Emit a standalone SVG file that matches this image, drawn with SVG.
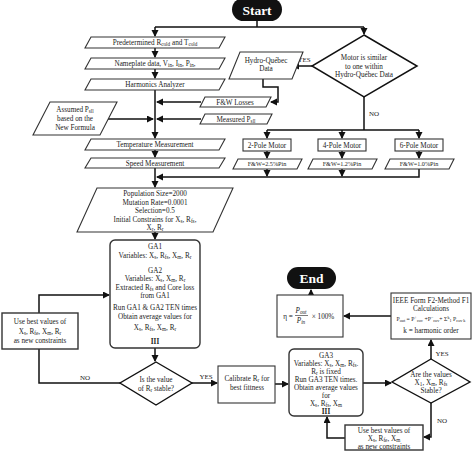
<svg xmlns="http://www.w3.org/2000/svg" width="474" height="452" viewBox="0 0 474 452">
<defs>
<style>
.t{font-family:"Liberation Serif","Times New Roman",serif;font-size:7.2px;fill:#222;text-anchor:middle}
.s{font-size:5.2px}
.sm{font-size:6.2px}
.box{fill:#fff;stroke:#333;stroke-width:1.1}
.rbox{fill:#fff;stroke:#333;stroke-width:1.4}
.c{fill:none;stroke:#111;stroke-width:1.5}
.a{fill:none;stroke:#111;stroke-width:1.5;marker-end:url(#ah)}
.pill{fill:#111}
.pt{font-family:"Liberation Serif","Times New Roman",serif;font-size:13.5px;font-weight:bold;fill:#fff;text-anchor:middle}
.lb{font-family:"Liberation Serif","Times New Roman",serif;font-size:7px;fill:#222;text-anchor:middle}
.b{font-weight:bold}
</style>
<marker id="ah" markerUnits="userSpaceOnUse" markerWidth="8" markerHeight="8" refX="6" refY="3.5" orient="auto">
<path d="M0,0 L7,3.5 L0,7 z" fill="#111"/>
</marker>
</defs>

<g id="connectors">
<path class="c" d="M257 21 V27 M155 27 H364"/>
<path class="a" d="M155 27 V36"/>
<path class="a" d="M364 27 V34"/>
<path class="a" d="M155 48 V57"/>
<path class="a" d="M155 69 V78"/>
<path class="a" d="M155 90 V138"/>
<path class="a" d="M201 102 H157"/>
<path class="a" d="M201 119 H157"/>
<path class="a" d="M108 119 H153"/>
<path class="a" d="M155 150 V157"/>
<path class="a" d="M155 168 V187"/>
<path class="a" d="M419 169 V177 H157"/>
<path class="a" d="M267 169 V176"/>
<path class="a" d="M342 169 V176"/>
<path class="a" d="M312 66 H293"/>
<path class="a" d="M263 79 V87 H278 V102 H271"/>
<path class="c" d="M364 97 V130 M267 130 H419"/>
<path class="a" d="M267 130 V138"/>
<path class="a" d="M342 130 V138"/>
<path class="a" d="M419 130 V138"/>
<path class="a" d="M267 151 V158"/>
<path class="a" d="M342 151 V158"/>
<path class="a" d="M419 151 V158"/>
<path class="a" d="M155 232 V239"/>
<path class="a" d="M155 348 V361"/>
<path class="a" d="M120 383 H39 V314"/>
<path class="a" d="M39 313 V295 H109"/>
<path class="a" d="M192 383 H217"/>
<path class="a" d="M275 384 H288"/>
<path class="a" d="M363 383 H391"/>
<path class="a" d="M431 359 V340"/>
<path class="a" d="M431 403 V437 H424"/>
<path class="a" d="M345 438 H327 V417"/>
<path class="a" d="M391 316 H344"/>
<path class="a" d="M311 295 V290"/>
<text class="lb" x="304" y="62">YES</text>
<text class="lb" x="374" y="116">NO</text>
<text class="lb" x="85" y="380">NO</text>
<text class="lb" x="206" y="379">YES</text>
<text class="lb" x="442" y="356">YES</text>
<text class="lb" x="442" y="423">NO</text>
</g>

<g id="start">
<rect class="pill" x="232" y="-2" width="50" height="23" rx="11.5"/>
<text class="pt" x="257" y="15">Start</text>
</g>

<g id="predetermined">
<polygon class="box" points="91,37 225,37 219,48 85,48"/>
<text class="t" x="155" y="45">Predetermined R<tspan class="s" dy="1.2">cold</tspan><tspan dy="-1.2"> and T</tspan><tspan class="s" dy="1.2">cold</tspan></text>
</g>

<g id="nameplate">
<polygon class="box" points="91,58 225,58 219,69 85,69"/>
<text class="t" x="155" y="66">Nameplate data, V<tspan class="s" dy="1.2">in</tspan><tspan dy="-1.2">, I</tspan><tspan class="s" dy="1.2">in</tspan><tspan dy="-1.2">, P</tspan><tspan class="s" dy="1.2">in</tspan><tspan dy="-1.2">,</tspan></text>
</g>

<g id="harmonics">
<polygon class="box" points="91,79 225,79 219,90 85,90"/>
<text class="t" x="155" y="87">Harmonics Analyzer</text>
</g>

<g id="fw-losses">
<polygon class="box" points="205,97 271,97 266,107 200,107"/>
<text class="t" x="235" y="104.5">F&amp;W Losses</text>
</g>

<g id="measured-psll">
<polygon class="box" points="205,114 272,114 267,124 200,124"/>
<text class="t" x="236" y="121.5">Measured P<tspan class="s" dy="1.2">sll</tspan></text>
</g>

<g id="assumed-psll">
<polygon class="box" points="50,102 117,102 100,135 33,135"/>
<text class="t" x="75" y="112">Assumed P<tspan class="s" dy="1.2">sll</tspan></text>
<text class="t" x="75" y="121">based on the</text>
<text class="t" x="75" y="130">New Formula</text>
</g>

<g id="temperature">
<polygon class="box" points="91,139 225,139 219,150 85,150"/>
<text class="t" x="155" y="147">Temperature Measurement</text>
</g>

<g id="speed">
<polygon class="box" points="91,158 225,158 219,168 85,168"/>
<text class="t" x="155" y="165.5">Speed Measurement</text>
</g>

<g id="hydro-data">
<polygon class="box" points="240,52 303,52 292,79 229,79"/>
<text class="t" x="266" y="63" font-size="5.6">Hydro-Québec</text>
<text class="t" x="266" y="71" font-size="5.6">Data</text>
</g>

<g id="motor-similar">
<polygon class="box" points="364,35 417,66 364,97 312,66" style="stroke-width:1.5;stroke:#111"/>
<text class="t" x="364" y="60">Motor is similar</text>
<text class="t" x="364" y="68.5">to one within</text>
<text class="t" x="364" y="77">Hydro-Québec Data</text>
</g>

<g id="pole2">
<rect class="box" x="243" y="139" width="48" height="12"/>
<text class="t" x="267" y="147.5">2-Pole Motor</text>
</g>
<g id="pole4">
<rect class="box" x="318" y="139" width="48" height="12"/>
<text class="t" x="342" y="147.5">4-Pole Motor</text>
</g>
<g id="pole6">
<rect class="box" x="395" y="139" width="48" height="12"/>
<text class="t" x="419" y="147.5">6-Pole Motor</text>
</g>

<g id="fw2">
<polygon class="box" points="238,159 302,159 297,169 233,169"/>
<text class="t sm" x="267" y="166.3">F&amp;W=2.5%Pin</text>
</g>
<g id="fw4">
<polygon class="box" points="313,159 377,159 372,169 308,169"/>
<text class="t sm" x="342" y="166.3">F&amp;W=1.2%Pin</text>
</g>
<g id="fw6">
<polygon class="box" points="390,159 454,159 449,169 385,169"/>
<text class="t sm" x="419" y="166.3">F&amp;W=1.0%Pin</text>
</g>

<g id="population">
<polygon class="box" points="97,188 233,188 213,232 77,232"/>
<text class="t" x="155" y="196">Population Size=2000</text>
<text class="t" x="155" y="204.5">Mutation Rate=0.0001</text>
<text class="t" x="155" y="213">Selection=0.5</text>
<text class="t" x="155" y="221.5">Initial Constrains for X<tspan class="s" dy="1.2">s</tspan><tspan dy="-1.2">, R</tspan><tspan class="s" dy="1.2">fs</tspan><tspan dy="-1.2">,</tspan></text>
<text class="t" x="155" y="230">X<tspan class="s" dy="1.2">r</tspan><tspan dy="-1.2">, R</tspan><tspan class="s" dy="1.2">r</tspan></text>
</g>

<g id="ga1">
<rect class="rbox" x="110" y="240" width="90" height="108" rx="5"/>
<text class="t" x="155" y="249">GA1</text>
<text class="t" x="155" y="257.5">Variables: X<tspan class="s" dy="1.2">s</tspan><tspan dy="-1.2">, R</tspan><tspan class="s" dy="1.2">fs</tspan><tspan dy="-1.2">, X</tspan><tspan class="s" dy="1.2">m</tspan><tspan dy="-1.2">, R</tspan><tspan class="s" dy="1.2">r</tspan></text>
<text class="t" x="155" y="272.5">GA2</text>
<text class="t" x="155" y="281">Variables: X<tspan class="s" dy="1.2">s</tspan><tspan dy="-1.2">, X</tspan><tspan class="s" dy="1.2">m</tspan><tspan dy="-1.2">, R</tspan><tspan class="s" dy="1.2">r</tspan></text>
<text class="t" x="155" y="289.5">Extracted R<tspan class="s" dy="1.2">fs</tspan><tspan dy="-1.2"> and Core loss</tspan></text>
<text class="t" x="155" y="298">from GA1</text>
<text class="t" x="155" y="310">Run GA1 &amp; GA2 TEN  times</text>
<text class="t" x="155" y="318.5">Obtain average values for</text>
<text class="t" x="155" y="330">X<tspan class="s" dy="1.2">s</tspan><tspan dy="-1.2">, R</tspan><tspan class="s" dy="1.2">fs</tspan><tspan dy="-1.2">, X</tspan><tspan class="s" dy="1.2">m</tspan><tspan dy="-1.2">, R</tspan><tspan class="s" dy="1.2">r</tspan></text>
<text class="t b" x="155" y="344" font-size="8">III</text>
</g>

<g id="rr-stable">
<polygon class="box" points="156,362 192,383 156,405 120,383" style="stroke-width:1.4;stroke:#111"/>
<text class="t" x="156" y="381.5">Is the value</text>
<text class="t" x="156" y="390.5">of R<tspan class="s" dy="1.2">r</tspan><tspan dy="-1.2"> stable?</tspan></text>
</g>

<g id="use-best-left">
<rect class="box" x="2" y="313" width="76" height="36" style="stroke-width:1.4"/>
<text class="t" x="40" y="324">Use best values of</text>
<text class="t" x="40" y="333.5">X<tspan class="s" dy="1.2">s</tspan><tspan dy="-1.2">, R</tspan><tspan class="s" dy="1.2">fe</tspan><tspan dy="-1.2">, X</tspan><tspan class="s" dy="1.2">m</tspan><tspan dy="-1.2">, R</tspan><tspan class="s" dy="1.2">r</tspan></text>
<text class="t" x="40" y="343">as new constraints</text>
</g>

<g id="calibrate">
<rect class="box" x="218" y="366" width="57" height="37"/>
<text class="t" x="247" y="381">Calibrate R<tspan class="s" dy="1.2">r</tspan><tspan dy="-1.2"> for</tspan></text>
<text class="t" x="247" y="390">best fittness</text>
</g>

<g id="ga3">
<rect class="rbox" x="289" y="349" width="74" height="67" rx="5"/>
<text class="t" x="326" y="357.5">GA3</text>
<text class="t" x="326" y="365.5">Variables: X<tspan class="s" dy="1.2">s</tspan><tspan dy="-1.2">, X</tspan><tspan class="s" dy="1.2">m</tspan><tspan dy="-1.2">, R</tspan><tspan class="s" dy="1.2">fs</tspan><tspan dy="-1.2">.</tspan></text>
<text class="t" x="326" y="373.5">R<tspan class="s" dy="1.2">r</tspan><tspan dy="-1.2"> is fixed</tspan></text>
<text class="t" x="326" y="381.5">Run GA3 TEN times.</text>
<text class="t" x="326" y="389.5">Obtain average values</text>
<text class="t" x="326" y="397.5">for</text>
<text class="t" x="326" y="405.5">X<tspan class="s" dy="1.2">s</tspan><tspan dy="-1.2">, R</tspan><tspan class="s" dy="1.2">fs</tspan><tspan dy="-1.2">, X</tspan><tspan class="s" dy="1.2">m</tspan></text>
<text class="t b" x="326" y="414" font-size="8">III</text>
</g>

<g id="values-stable">
<polygon class="box" points="431,359 470,382 431,403 392,382" style="stroke-width:1.4;stroke:#111"/>
<text class="t" x="431" y="377">Are the values</text>
<text class="t" x="431" y="385">X<tspan class="s" dy="1.2">1</tspan><tspan dy="-1.2">, X</tspan><tspan class="s" dy="1.2">m</tspan><tspan dy="-1.2">, R</tspan><tspan class="s" dy="1.2">fs</tspan></text>
<text class="t" x="431" y="393">Stable?</text>
</g>

<g id="use-best-right">
<rect class="box" x="345" y="425" width="78" height="25" style="stroke-width:1.4"/>
<text class="t" x="384" y="432.5">Use best values of</text>
<text class="t" x="384" y="440.5">X<tspan class="s" dy="1.2">s</tspan><tspan dy="-1.2">, R</tspan><tspan class="s" dy="1.2">fe</tspan><tspan dy="-1.2">, X</tspan><tspan class="s" dy="1.2">m</tspan></text>
<text class="t" x="384" y="448.5">as new constraints</text>
</g>

<g id="ieee">
<rect class="box" x="391" y="293" width="80" height="46"/>
<text class="t" x="431" y="303">IEEE Form F2-Method F1</text>
<text class="t" x="431" y="311">Calculations</text>
<text class="t" x="431" y="321" font-size="5.8" style="font-size:5.8px">P<tspan style="font-size:4.2px" dy="1">out</tspan><tspan dy="-1"> = P</tspan><tspan style="font-size:4.2px" dy="-2">+</tspan><tspan style="font-size:4.2px" dy="3">cov</tspan><tspan dy="-1"> +P</tspan><tspan style="font-size:4.2px" dy="-2">−</tspan><tspan style="font-size:4.2px" dy="3">cov</tspan><tspan dy="-1">+ Σ</tspan><tspan style="font-size:4.2px" dy="-2">k</tspan><tspan style="font-size:4.2px" dy="3">1</tspan><tspan dy="-1"> P</tspan><tspan style="font-size:4.2px" dy="1">cov k</tspan></text>
<text class="t" x="431" y="333">k = harmonic order</text>
</g>

<g id="efficiency">
<rect class="box" x="277" y="295" width="66" height="42"/>
<text class="t" x="288" y="318.5">η =</text>
<text class="t" x="301" y="313" font-style="italic">P<tspan class="s" dy="1.2">out</tspan></text>
<line x1="295" y1="315.5" x2="308" y2="315.5" stroke="#222" stroke-width="0.6"/>
<text class="t" x="301" y="322.5" font-style="italic">P<tspan class="s" dy="1.2">in</tspan></text>
<text class="t" x="323" y="318.5">× 100%</text>
</g>

<g id="end">
<rect class="pill" x="287" y="267" width="49" height="22" rx="11"/>
<text class="pt" x="311.5" y="283">End</text>
</g>
</svg>
